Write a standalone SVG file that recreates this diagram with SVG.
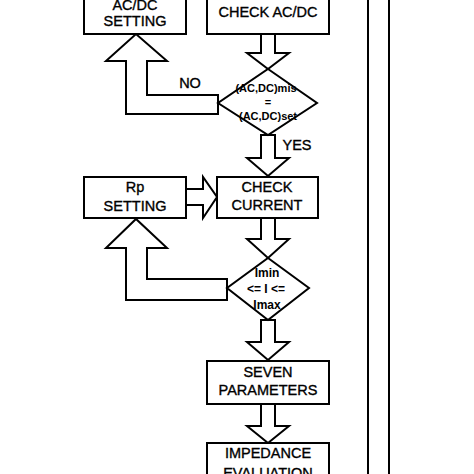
<svg xmlns="http://www.w3.org/2000/svg" width="474" height="474" viewBox="0 0 474 474">
<style>
.b{fill:#fff;stroke:#000;stroke-width:2}
.t{font-family:"Liberation Sans",Arial,sans-serif;font-size:14.5px;fill:#000;stroke:#000;stroke-width:0.35;text-anchor:middle}
.d{font-family:"Liberation Sans",Arial,sans-serif;font-size:11px;font-weight:bold;fill:#000;text-anchor:middle}
.l{stroke:#000;stroke-width:2;fill:none}
</style>
<rect width="474" height="474" fill="#fff"/>
<g id="connectors">
<polygon class="b" points="261,34 261,53 247,53 268,69 289,53 275,53 275,34"/>
<polygon class="b" points="261,135 261,158 247,158 268,176 289,158 275,158 275,135"/>
<polygon class="b" points="261,218 261,239 247,239 268,258 289,239 275,239 275,218"/>
<polygon class="b" points="261,320 261,342 247,342 268,360 289,342 275,342 275,320"/>
<polygon class="b" points="261,404 261,426 247,426 268,443 289,426 275,426 275,404"/>
<polygon class="b" points="218,95 147,95 147,61 167,61 136,34 106,61 126,61 126,114 218,114"/>
<polygon class="b" points="227,279 147,279 147,248 167,248 136,219 106,248 126,248 126,300 227,300"/>
<polygon class="b" points="186,189 203,189 203,177 217,197 203,218 203,205 186,205"/>
<text class="t" x="190" y="88">NO</text>
<text class="t" x="297" y="150">YES</text>
</g>
<g id="acdc-setting">
<rect class="b" x="84" y="-10" width="102" height="44"/>
<text class="t" x="135" y="10">AC/DC</text>
<text class="t" x="135" y="26">SETTING</text>
</g>
<g id="check-acdc">
<rect class="b" x="207" y="-10" width="122" height="44"/>
<text class="t" x="268" y="17">CHECK AC/DC</text>
</g>
<g id="decision-acdc">
<polygon class="b" points="268,69 317,103 268,135 218,103"/>
<text class="d" x="266" y="92">(AC,DC)mis</text>
<text class="d" x="268" y="106">=</text>
<text class="d" x="268" y="120">(AC,DC)set</text>
</g>
<g id="rp-setting">
<rect class="b" x="84" y="177" width="102" height="41"/>
<text class="t" x="135" y="192">Rp</text>
<text class="t" x="135" y="211">SETTING</text>
</g>
<g id="check-current">
<rect class="b" x="217" y="177" width="101" height="41"/>
<text class="t" x="267" y="192">CHECK</text>
<text class="t" x="267" y="210">CURRENT</text>
</g>
<g id="decision-current">
<polygon class="b" points="268,258 309,288 268,320 227,288"/>
<text class="d" x="267" y="277" style="font-size:12px">Imin</text>
<text class="d" x="266" y="293" style="font-size:12px">&lt;= I &lt;=</text>
<text class="d" x="267" y="309" style="font-size:12px">Imax</text>
</g>
<g id="seven-parameters">
<rect class="b" x="207" y="361" width="122" height="43"/>
<text class="t" x="268" y="377">SEVEN</text>
<text class="t" x="268" y="395">PARAMETERS</text>
</g>
<g id="impedance-evaluation">
<rect class="b" x="207" y="443" width="122" height="45"/>
<text class="t" x="268" y="458">IMPEDANCE</text>
<text class="t" x="268" y="478">EVALUATION</text>
</g>
<g id="frame">
<line class="l" x1="368" y1="0" x2="368" y2="474"/>
<line class="l" x1="389" y1="0" x2="389" y2="474"/>
</g>
</svg>
